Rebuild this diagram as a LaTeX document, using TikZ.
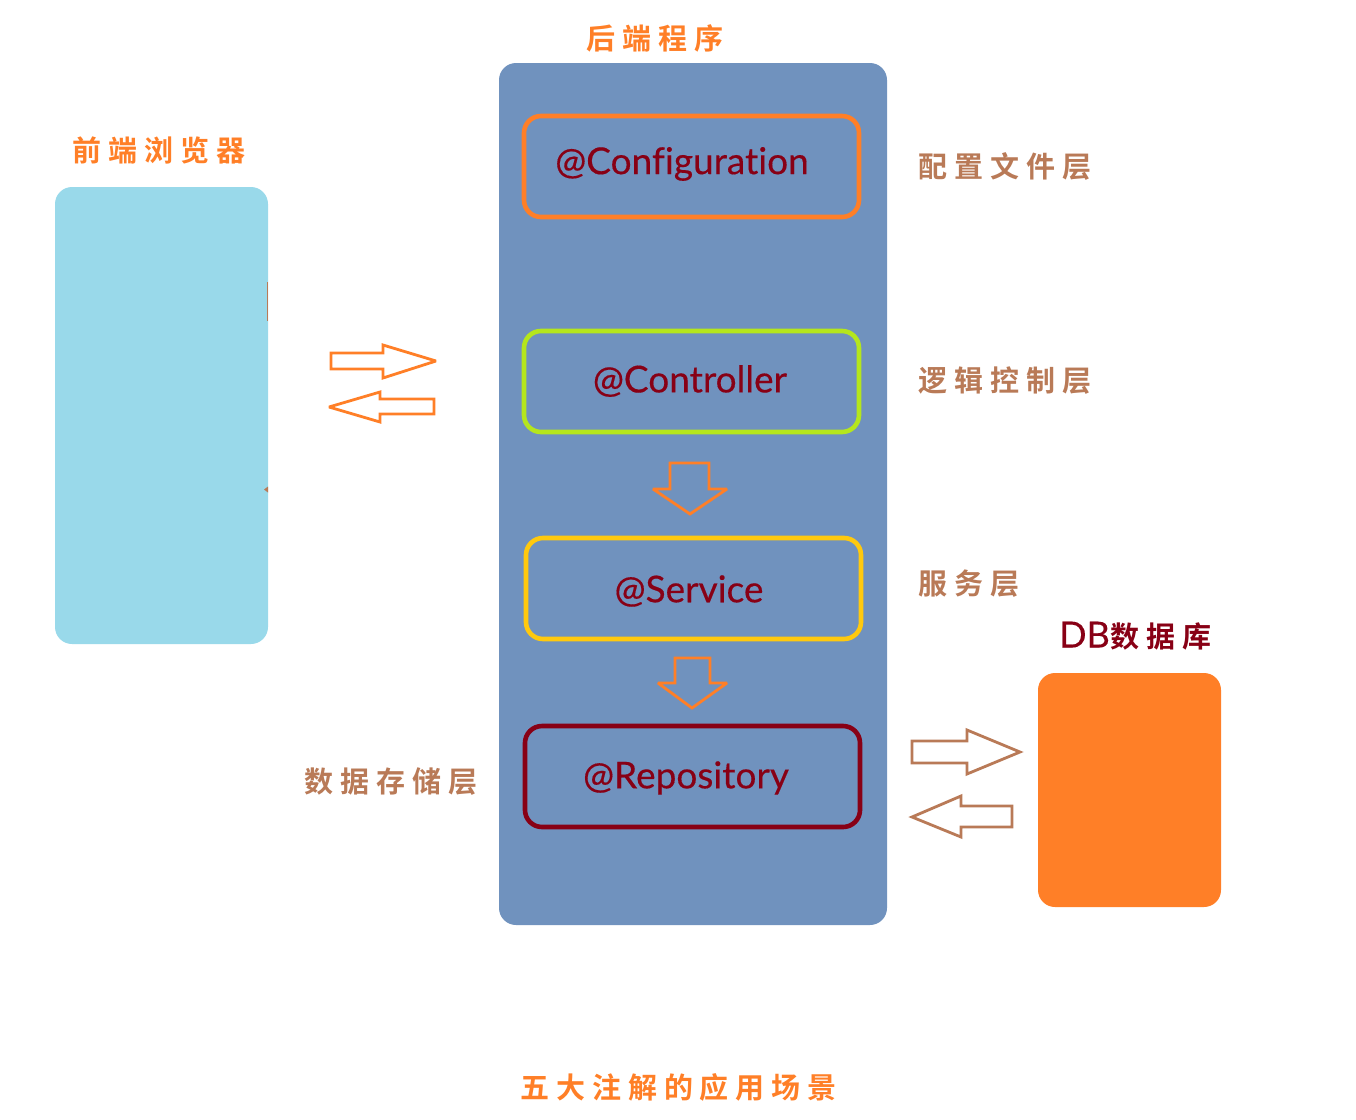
\documentclass[tikz,border=0pt]{standalone}
\usepackage{fontspec}
\setmainfont{Lato}[Ligatures=NoCommon,FakeBold=0.35]
\newfontfamily\cjk[LetterSpace=24]{Noto Sans CJK SC}[BoldFont=* Bold]
\definecolor{panelblue}{HTML}{7092BE}
\definecolor{skyblue}{HTML}{99D9EA}
\definecolor{orng}{HTML}{FF7F27}
\definecolor{limeg}{HTML}{B5E61D}
\definecolor{amber}{HTML}{FFC90E}
\definecolor{darkred}{HTML}{880015}
\definecolor{brownish}{HTML}{B97A57}
\tikzset{
  panel/.style={rounded corners=17pt},
  layerbox/.style={draw=#1,line width=4.6pt,rounded corners=17pt},
  blockarrow/.style={draw=#1,line width=2.8pt,fill=none,miter limit=3},
  cjktext/.style={anchor=west,inner sep=0pt,text=#1,font=\fontsize{29pt}{32pt}\selectfont\cjk\bfseries},
  anno/.style={inner sep=0pt,text=darkred,font=\fontsize{37pt}{40pt}\selectfont},
}
\begin{document}
\begin{tikzpicture}[x=1pt,y=-1pt]
\useasboundingbox (0,0) rectangle (1356,1119);
% panels
\fill[panel,fill=skyblue] (55,187) rectangle (268,644);
\fill[panel,fill=panelblue] (499,63) rectangle (887,925);
\fill[panel,fill=orng] (1038,673) rectangle (1221,907);
% small stray marks at the edge of the browser panel
\draw[brownish,line width=1pt] (267.5,282) -- (267.5,321);
\fill[brownish] (264,489.5) -- (268,486.5) -- (268,492.5) -- cycle;
% layer boxes
\draw[layerbox=orng] (524,116) rectangle (859,217);
\draw[layerbox=limeg] (524,331) rectangle (859,432);
\draw[layerbox=amber] (526,538) rectangle (861,639);
\draw[layerbox=darkred] (525,726) rectangle (860,827);
% annotation labels
\node[anno] (cfg) at (682,164) {@Configuration};
\node[anno] (ctl) at (690,381) {@Controller};
\node[anno] (svc) at (689,591) {@Service};
\node[anno] (rep) at (686,778) {@Repository};
% block arrows
\draw[blockarrow=orng] (331,353) -- (383,353) -- (383,345) -- (436,361) -- (383,378) -- (383,369) -- (331,369) -- cycle;
\draw[blockarrow=orng] (434,399) -- (380,399) -- (380,392) -- (329,407) -- (380,422) -- (380,414) -- (434,414) -- cycle;
\draw[blockarrow=orng] (670,463) -- (709,463) -- (709,489) -- (727,489) -- (690,514) -- (653,489) -- (670,489) -- cycle;
\draw[blockarrow=orng] (675,658) -- (710,658) -- (710,683) -- (727,683) -- (692,708) -- (658,683) -- (675,683) -- cycle;
\draw[blockarrow=brownish] (912,741) -- (967,741) -- (967,730) -- (1020,752) -- (967,774) -- (967,763) -- (912,763) -- cycle;
\draw[blockarrow=brownish] (1012,806) -- (961,806) -- (961,796) -- (912,817) -- (961,837) -- (961,827) -- (1012,827) -- cycle;
% captions
\node[cjktext=orng] (back) at (586,38) {后端程序};
\node[cjktext=orng] (front) at (72,150) {前端浏览器};
\node[cjktext=brownish] (l1) at (918,166) {配置文件层};
\node[cjktext=brownish] (l2) at (918,381) {逻辑控制层};
\node[cjktext=brownish] (l3) at (918,584) {服务层};
\node[cjktext=brownish] (l4) at (304,782) {数据存储层};
\node[cjktext=orng] (title) at (520,1087) {五大注解的应用场景};
\node[inner sep=0pt,anchor=west,text=darkred] (db) at (1059,636) {\fontsize{36pt}{40pt}\selectfont DB\hspace{1pt}\fontsize{29pt}{32pt}\selectfont\cjk\bfseries 数据库};
\end{tikzpicture}
\end{document}
